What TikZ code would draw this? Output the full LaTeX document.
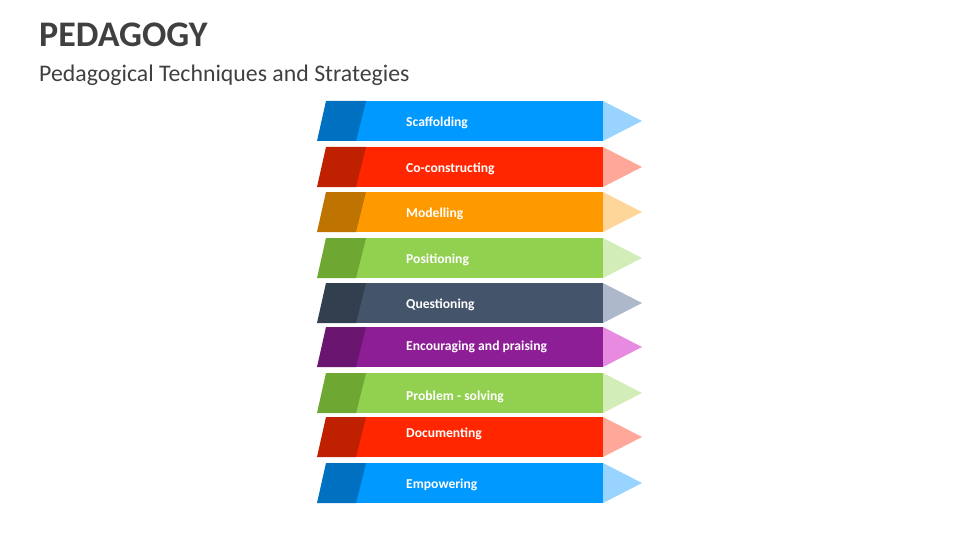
\documentclass[tikz,border=0pt]{standalone}
\usepackage{fontspec}
\setmainfont{Carlito}
\definecolor{bM}{HTML}{0099FF}\definecolor{bD}{HTML}{0070C0}\definecolor{bL}{HTML}{99D3FF}
\definecolor{rM}{HTML}{FF2600}\definecolor{rD}{HTML}{BF2000}\definecolor{rL}{HTML}{FFA899}
\definecolor{oM}{HTML}{FF9900}\definecolor{oD}{HTML}{BF7300}\definecolor{oL}{HTML}{FFD699}
\definecolor{gM}{HTML}{92D050}\definecolor{gD}{HTML}{6EA832}\definecolor{gL}{HTML}{D3EDB9}
\definecolor{sM}{HTML}{44546A}\definecolor{sD}{HTML}{323F4F}\definecolor{sL}{HTML}{ADB9CA}
\definecolor{pM}{HTML}{8E1E96}\definecolor{pD}{HTML}{6A1670}\definecolor{pL}{HTML}{E88BE0}
\definecolor{txt}{HTML}{404040}
\tikzset{lbl/.style={anchor=west,text=white,font=\bfseries\fontsize{13.6}{16}\selectfont,inner sep=0pt}}
\newcommand{\arow}[5]{%
 \fill[#2M] (340,#1) rectangle (603,#1+40);
 \fill[#2D] (326,#1) -- (366,#1) -- (356,#1+40) -- (317,#1+40) -- cycle;
 \fill[#2L] (603,#1) -- (642,#1+20) -- (603,#1+40) -- cycle;
 \node[lbl] (#4) at (406,#1+#5+1.5) {#3};}
\begin{document}
\begin{tikzpicture}[x=1pt,y=-1pt]
\useasboundingbox (0,0) rectangle (960,540);
\node[anchor=west,text=txt,font=\bfseries\fontsize{36}{40}\selectfont,inner sep=0pt] (title) at (39,35) {PEDAGOGY};
\node[anchor=west,text=txt,font=\fontsize{23.8}{28}\selectfont,inner sep=0pt] (sub) at (39,75) {Pedagogical Techniques and Strategies};
\arow{101}{b}{Scaffolding}{r1}{20}
\arow{147}{r}{Co-constructing}{r2}{20}
\arow{192}{o}{Modelling}{r3}{20}
\arow{238}{g}{Positioning}{r4}{20}
\arow{283}{s}{Questioning}{r5}{20}
\arow{327}{p}{Encouraging and praising}{r6}{18}
\arow{373}{g}{Problem - solving}{r7}{22}
\arow{417}{r}{Documenting}{r8}{15}
\arow{463}{b}{Empowering}{r9}{20}
\end{tikzpicture}
\end{document}
